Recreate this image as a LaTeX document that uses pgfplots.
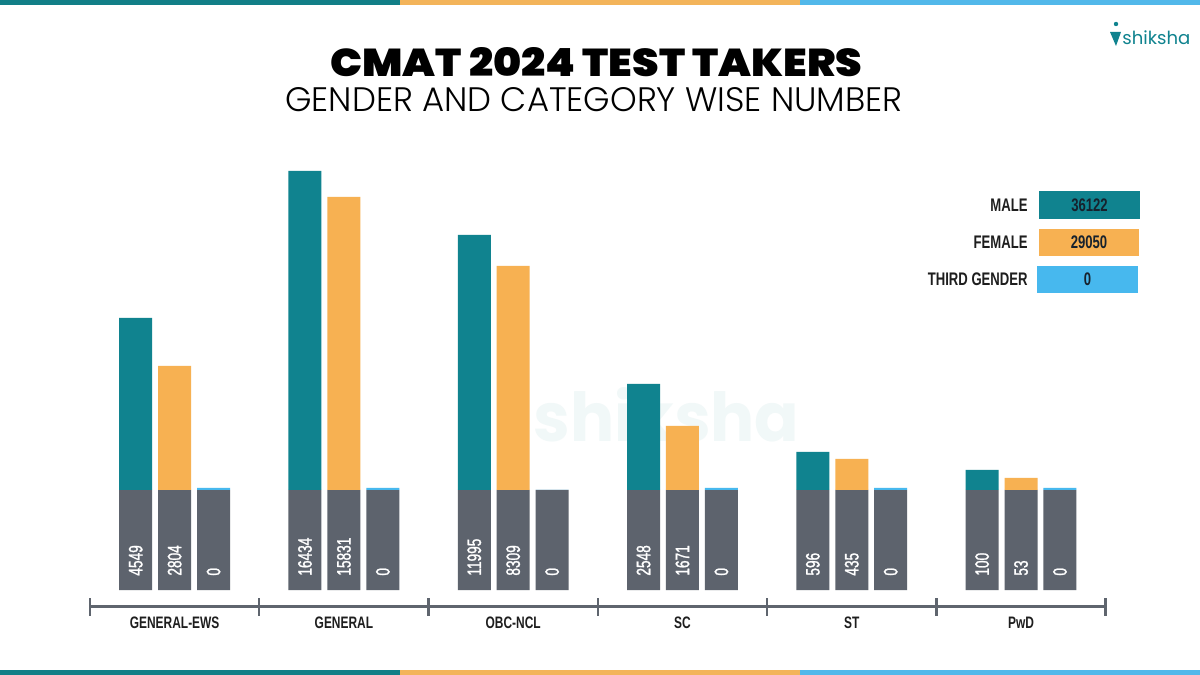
\documentclass[border=0pt]{standalone}
\usepackage{pgfplots}
\pgfplotsset{compat=1.18}
\usepackage{pgfplotstable}
\usepackage{graphicx}
\usepackage{fontspec}
\setmainfont{Liberation Sans}
\newfontfamily\condf[FakeStretch=0.72]{Liberation Sans}
\newfontfamily\condm[FakeStretch=0.70, FakeBold=1.2]{Liberation Sans}
\newfontfamily\popf{Poppins}
\newfontfamily\poplight{Poppins Light}
\newfontfamily\popblack{Poppins Black}

\definecolor{tealc}{HTML}{10838F}
\definecolor{orangec}{HTML}{F7B152}
\definecolor{bluec}{HTML}{47B8EE}
\definecolor{greyc}{HTML}{5D636D}
\definecolor{axisc}{HTML}{5F656E}
\definecolor{stripteal}{HTML}{127F87}
\definecolor{striporange}{HTML}{F3B45A}
\definecolor{stripblue}{HTML}{52B8EA}
\definecolor{darktxt}{HTML}{1E1E1E}
\definecolor{navytxt}{HTML}{17222D}

% values (numbers written on the bars) and drawn bar heights (px above the grey base)
\pgfplotstableread{
idx male female third mh fh th
0 4549 2804 0 172 124 2
1 16434 15831 0 319 293 2
2 11995 8309 0 255 224 0
3 2548 1671 0 106 64 2
4 596 435 0 38 31 2
5 100 53 0 20 12 2
}\datatab

\pgfplotsset{numlabel/.style={draw=none, mark=none,
  nodes near coords={\pgfplotspointmeta}, point meta=explicit symbolic,
  every node near coord/.style={rotate=90, anchor=west, inner sep=0pt, text=white, font=\condm\fontsize{9.75pt}{10pt}\selectfont}}}

\begin{document}
\begin{tikzpicture}[x=0.5pt,y=0.5pt]
\useasboundingbox (0,0) rectangle (1200,675);
\fill[white] (0,0) rectangle (1200,675);
\coordinate (axisSW) at (90,68.3);
\begin{scope}[yshift=337.5pt, yscale=-1]
% colour strips
\fill[stripteal] (0,0) rectangle (400,5);
\fill[striporange] (400,0) rectangle (800,5);
\fill[stripblue] (800,0) rectangle (1200,5);
\fill[stripteal] (0,670) rectangle (400,675);
\fill[striporange] (400,670) rectangle (800,675);
\fill[stripblue] (800,670) rectangle (1200,675);

% watermark
\node[anchor=base west, inner sep=0pt, text=tealc!6] at (533,442) {\resizebox{133pt}{27pt}{\popf\bfseries shiksha}};

% title
\node[anchor=base west, inner sep=0pt] at (330,77) {\resizebox{266pt}{14.5pt}{\popblack CMAT 2024 TEST TAKERS}};
\node[anchor=base west, inner sep=0pt] at (285,112) {\resizebox{308.5pt}{12pt}{\poplight GENDER AND CATEGORY WISE NUMBER}};

% logo
\node[anchor=base west, inner sep=0pt, text=tealc] at (1122,45) {\resizebox{34pt}{!}{\popf shiksha}};
\fill[tealc] (1110,32) -- (1121,32) -- (1116,46) -- cycle;
\fill[tealc] (1116,24) circle (2.2);

% legend with totals
\fill[tealc] (1039,191) rectangle (1140,219);
\fill[orangec] (1039,229) rectangle (1139,256);
\fill[bluec] (1037,266) rectangle (1138,293);
\begin{scope}[every node/.style={inner sep=0pt, font=\condf\bfseries\fontsize{9.1pt}{10pt}\selectfont}]
\node[anchor=base east, text=darktxt] at (1028,212) {MALE};
\node[anchor=base east, text=darktxt] at (1028,249) {FEMALE};
\node[anchor=base east, text=darktxt] at (1028,286) {THIRD GENDER};
\node[anchor=base, text=navytxt] at (1089.5,212) {36122};
\node[anchor=base, text=navytxt] at (1089,249) {29050};
\node[anchor=base, text=navytxt] at (1087.5,286) {0};
\end{scope}
\end{scope}

\begin{axis}[
  at={(axisSW)}, anchor=south west,
  scale only axis, width=507.85pt, height=223.35pt,
  xmin=-0.5, xmax=5.5, ymin=-116.7, ymax=330,
  axis x line=bottom, axis y line=none,
  x axis line style={-, line width=1.5pt, color=axisc},
  xtick={-0.5,0.5,1.5,2.5,3.5,4.5,5.5}, xticklabels={},
  xtick align=center, major tick length=9pt,
  tick style={line width=1.2pt, color=axisc},
  extra x ticks={0,1,2,3,4,5},
  extra x tick labels={GENERAL-EWS,GENERAL,OBC-NCL,SC,ST,PwD},
  extra x tick style={major tick length=0pt, tick label style={font=\condf\bfseries\fontsize{8.3pt}{9pt}\selectfont, text=darktxt, yshift=-1.5pt}},
  clip=false,
]
% grey bases
\addplot[ybar, bar width=0.195, bar shift=-0.23, fill=greyc, draw=none] table[x=idx, y expr=-100] {\datatab};
\addplot[ybar, bar width=0.195, bar shift=0, fill=greyc, draw=none] table[x=idx, y expr=-100] {\datatab};
\addplot[ybar, bar width=0.195, bar shift=0.23, fill=greyc, draw=none] table[x=idx, y expr=-100] {\datatab};
% coloured bars
\addplot[ybar, bar width=0.195, bar shift=-0.23, fill=tealc, draw=none] table[x=idx, y=mh] {\datatab};
\addplot[ybar, bar width=0.195, bar shift=0, fill=orangec, draw=none] table[x=idx, y=fh] {\datatab};
\addplot[ybar, bar width=0.195, bar shift=0.23, fill=bluec, draw=none] table[x=idx, y=th] {\datatab};
% numbers written in the grey bases
\addplot[numlabel] table[x expr=\thisrow{idx}-0.23, y expr=-86, meta=male] {\datatab};
\addplot[numlabel] table[x=idx, y expr=-86, meta=female] {\datatab};
\addplot[numlabel] table[x expr=\thisrow{idx}+0.23, y expr=-86, meta=third] {\datatab};
\end{axis}
\end{tikzpicture}
\end{document}
